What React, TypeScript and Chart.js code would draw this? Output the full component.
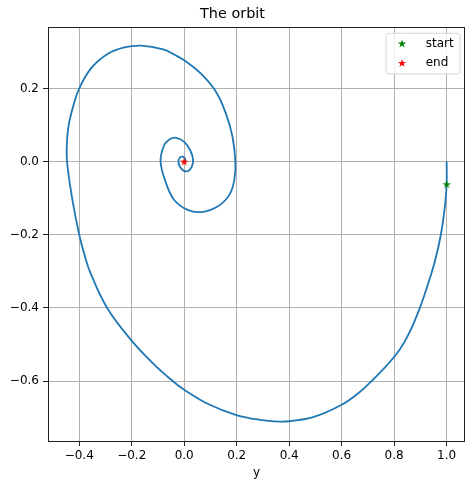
import React, { useEffect, useRef } from "react";
import { Chart, registerables } from "chart.js";
Chart.register(...registerables);

// Orbit (phase-space spiral)
const orbitX = [
  1.0, 1.0, 0.994, 0.978, 0.955, 0.924, 0.898, 0.86, 0.822, 0.771, 0.71, 0.669, 0.6, 0.491, 0.4, 0.364,
  0.288, 0.199, 0.097, 0.0, -0.044, -0.12, -0.202, -0.293, -0.357, -0.38, -0.4, -0.425, -0.444, -0.448,
  -0.442, -0.425, -0.4, -0.355, -0.292, -0.228, -0.164, -0.08, -0.037, 0.0, 0.063, 0.121, 0.159, 0.184,
  0.195, 0.191, 0.172, 0.127, 0.066, 0.013, -0.038, -0.07, -0.09, -0.077, -0.055, -0.03, 0.0, 0.023, 0.034,
  0.029, 0.015, -0.004, -0.018, -0.022, -0.015, -0.004, 0.004, 0.003, 0.0,
];
const orbitY = [
  0.0, -0.062, -0.118, -0.2, -0.273, -0.346, -0.4, -0.465, -0.513, -0.558, -0.603, -0.63, -0.665, -0.699,
  -0.71, -0.711, -0.706, -0.693, -0.665, -0.624, -0.6, -0.551, -0.488, -0.401, -0.305, -0.255, -0.2, -0.109,
  -0.018, 0.027, 0.091, 0.146, 0.2, 0.255, 0.294, 0.312, 0.317, 0.307, 0.292, 0.277, 0.241, 0.191, 0.131,
  0.068, 0.0, -0.05, -0.091, -0.123, -0.138, -0.132, -0.105, -0.057, 0.0, 0.044, 0.061, 0.065, 0.054, 0.031,
  0.004, -0.014, -0.026, -0.024, -0.012, 0.002, 0.012, 0.013, 0.007, 0.001, 0.0,
];
const startPoint = { x: 1.0, y: -0.062 };
const endPoint = { x: 0.0, y: 0.0 };
const legendLabels = ["start", "end"];
const xTicks = [-0.4, -0.2, 0.0, 0.2, 0.4, 0.6, 0.8, 1.0];
const yTicks = [-0.6, -0.4, -0.2, 0.0, 0.2];
const xRange = [-0.519, 1.07];
const yRange = [-0.764, 0.368];

const FONT = "DejaVu Sans";

function drawStar(ctx: CanvasRenderingContext2D, cx: number, cy: number, r: number, color: string) {
  ctx.save();
  ctx.beginPath();
  for (let i = 0; i < 10; i++) {
    const rad = i % 2 === 0 ? r : r * 0.382;
    const a = -Math.PI / 2 + (i * Math.PI) / 5;
    const x = cx + rad * Math.cos(a);
    const y = cy + rad * Math.sin(a);
    if (i === 0) ctx.moveTo(x, y);
    else ctx.lineTo(x, y);
  }
  ctx.closePath();
  ctx.fillStyle = color;
  ctx.fill();
  ctx.restore();
}

function makeStar(color: string) {
  const size = 10;
  const c = document.createElement("canvas");
  c.width = size;
  c.height = size;
  const ctx = c.getContext("2d")!;
  drawStar(ctx, size / 2, size / 2 + 0.4, 4.4, color);
  return c;
}

const fmt = (v: number) => {
  const s = (Math.abs(v) < 1e-9 ? 0 : v).toFixed(1);
  return s.replace("-", "\u2212");
};

export default function App() {
  const ref = useRef<HTMLCanvasElement | null>(null);

  useEffect(() => {
    if (!ref.current) return;
    const greenStar = makeStar("#008000");
    const redStar = makeStar("#ff0000");

    const framePlugin = {
      id: "frame",
      afterDraw(chart: any) {
        const { ctx, chartArea: a } = chart;
        ctx.save();
        ctx.strokeStyle = "#222";
        ctx.lineWidth = 1;
        ctx.strokeRect(Math.round(a.left) + 0.5, Math.round(a.top) + 0.5, Math.round(a.right - a.left) - 1, Math.round(a.bottom - a.top));
        // legend
        const w = 74;
        const h = 40.7;
        const bx = a.right - 5 - w;
        const by = a.top + 6.3;
        ctx.beginPath();
        const r = 3;
        ctx.moveTo(bx + r, by);
        ctx.lineTo(bx + w - r, by);
        ctx.quadraticCurveTo(bx + w, by, bx + w, by + r);
        ctx.lineTo(bx + w, by + h - r);
        ctx.quadraticCurveTo(bx + w, by + h, bx + w - r, by + h);
        ctx.lineTo(bx + r, by + h);
        ctx.quadraticCurveTo(bx, by + h, bx, by + h - r);
        ctx.lineTo(bx, by + r);
        ctx.quadraticCurveTo(bx, by, bx + r, by);
        ctx.closePath();
        ctx.fillStyle = "rgba(255,255,255,0.8)";
        ctx.fill();
        ctx.strokeStyle = "#d6d6d6";
        ctx.lineWidth = 1;
        ctx.stroke();
        const colors = ["#008000", "#ff0000"];
        ctx.font = `12px "${FONT}"`;
        ctx.textBaseline = "middle";
        ctx.textAlign = "left";
        legendLabels.forEach((lbl, i) => {
          const yy = by + 10.2 + i * 19.4;
          drawStar(ctx, bx + 16, yy + 0.4, 4.4, colors[i]);
          ctx.fillStyle = "#000";
          ctx.fillText(lbl, bx + 39.7, yy);
        });
        ctx.restore();
      },
    };

    const chart = new Chart(ref.current, {
      type: "line",
      data: {
        datasets: [
          {
            label: "orbit",
            data: orbitX.map((x, i) => ({ x, y: orbitY[i] })),
            showLine: true,
            borderColor: "#1f77b4",
            backgroundColor: "#1f77b4",
            borderWidth: 1.8,
            pointRadius: 0,
            tension: 0.4,
            capBezierPoints: false,
            fill: false,
            order: 2,
          },
          {
            label: legendLabels[0],
            data: [startPoint],
            showLine: false,
            pointStyle: greenStar as any,
            pointRadius: 5,
            order: 1,
          },
          {
            label: legendLabels[1],
            data: [endPoint],
            showLine: false,
            pointStyle: redStar as any,
            pointRadius: 5,
            order: 0,
          },
        ],
      },
      options: {
        responsive: false,
        animation: false,
        layout: { padding: { left: 0, right: 9, top: 0, bottom: 0 } },
        plugins: {
          legend: { display: false },
          tooltip: { enabled: false },
          title: {
            display: true,
            text: "The orbit",
            color: "#000",
            font: { family: FONT, size: 14.4, weight: "normal" as any },
            padding: { top: 5.7, bottom: 4 },
          },
        },
        scales: {
          x: {
            type: "linear",
            min: xRange[0],
            max: xRange[1],
            afterBuildTicks: (s: any) => {
              s.ticks = xTicks.map((v) => ({ value: v }));
            },
            afterFit: (s: any) => {
              s.height = 48;
            },
            ticks: {
              color: "#000",
              font: { family: FONT, size: 12 },
              padding: 3,
              maxRotation: 0,
              autoSkip: false,
              callback: (v: any) => fmt(Number(v)),
            },
            grid: { color: "#b0b0b0", lineWidth: 1, tickColor: "#222", tickLength: 5, drawTicks: true },
            border: { display: false },
            title: {
              display: true,
              text: "y",
              color: "#000",
              font: { family: FONT, size: 12 },
              padding: { top: 0, bottom: 9 },
            },
          },
          y: {
            type: "linear",
            min: yRange[0],
            max: yRange[1],
            afterBuildTicks: (s: any) => {
              s.ticks = yTicks.map((v) => ({ value: v }));
            },
            afterFit: (s: any) => {
              s.width = 48;
            },
            ticks: {
              color: "#000",
              font: { family: FONT, size: 12 },
              padding: 4,
              autoSkip: false,
              callback: (v: any) => fmt(Number(v)),
            },
            grid: { color: "#b0b0b0", lineWidth: 1, tickColor: "#222", tickLength: 5, drawTicks: true },
            border: { display: false },
          },
        },
      },
      plugins: [framePlugin],
    });
    return () => chart.destroy();
  }, []);

  return (
    <div style={{ position: "fixed", left: 0, top: 0, width: 474, height: 489, background: "#fff" }}>
      <canvas ref={ref} width={474} height={489} style={{ display: "block" }} />
    </div>
  );
}
